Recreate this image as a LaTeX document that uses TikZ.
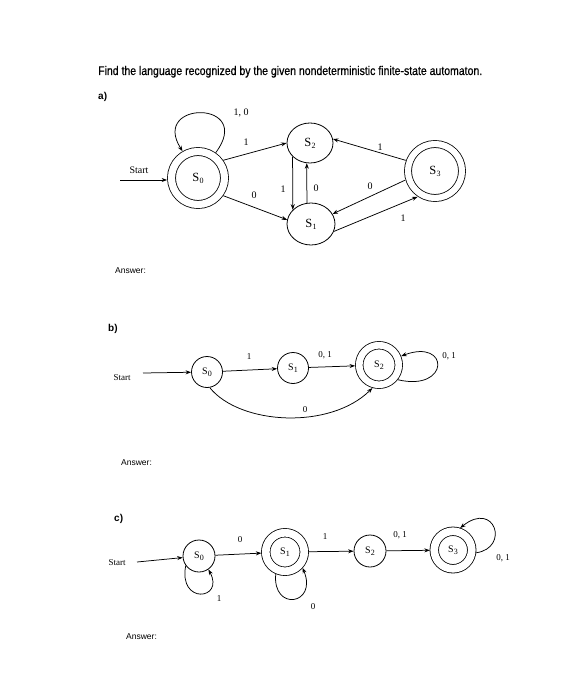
\documentclass[tikz,border=0pt]{standalone}
\usepackage{fontspec}
\setmainfont{Liberation Serif}
\setsansfont{Liberation Sans}
\newfontfamily\titlefont[FakeStretch=0.84, FakeBold=0.6]{Liberation Sans}
\usetikzlibrary{shapes.geometric, arrows.meta}

\newcommand{\sname}[1]{S\kern.2pt\lower.35ex\hbox{\footnotesize #1}}

\tikzset{
  state/.style={draw, circle, line width=0.8pt, inner sep=0pt},
  oval/.style={draw, ellipse, line width=0.8pt, inner sep=0pt},
  accept/.style={double, double distance=#1},
  trans/.style={-{Stealth[length=5.5pt, width=4pt]}, line width=0.75pt},
  lbl/.style={inner sep=0pt, font=\fontsize{10}{12}\selectfont},
  small lbl/.style={inner sep=0pt, font=\fontsize{9}{11}\selectfont},
  part/.style={anchor=base west, inner sep=0pt, font=\sffamily\bfseries\fontsize{10}{12}\selectfont},
  answer/.style={anchor=base west, inner sep=0pt, font=\sffamily\fontsize{8.5}{10}\selectfont},
}

\begin{document}
\begin{tikzpicture}[x=1pt, y=-1pt]
  \useasboundingbox (0,0) rectangle (566,700);

  \node[anchor=base west, inner sep=0pt, font=\titlefont\fontsize{12.5}{14}\selectfont] (title) at (98,75)
    {Find the language recognized by the given nondeterministic finite-state automaton.};

  % a)
  \node[part] (part-a) at (98,100) {a)};
  \node[state, accept=7.2pt, outer sep=4.4pt, minimum size=53pt, font=\fontsize{12.5}{14}\selectfont] (a-s0) at (198,178) {\sname{0}};
  \node[oval, minimum width=46pt, minimum height=40pt, font=\fontsize{12.5}{14}\selectfont] (a-s2) at (310,143) {\sname{2}};
  \node[oval, minimum width=48pt, minimum height=42pt, font=\fontsize{12.5}{14}\selectfont] (a-s1) at (311,224) {\sname{1}};
  \node[state, accept=6.2pt, outer sep=4.1pt, minimum size=54pt, font=\fontsize{12.5}{14}\selectfont] (a-s3) at (435,171) {\sname{3}};
  \coordinate (a-start) at (120,180);
  \node[lbl] (a-start-label) at (139,170) {Start};

  \draw[trans] (a-start) -- (a-s0.west |- a-start);
  \draw[trans] (a-s0.55) .. controls (255,100) and (150,100) .. (a-s0.120);
  \draw[trans] (a-s0.35) -- (a-s2.180);
  \draw[trans] (a-s0.-35) -- (a-s1.170);
  \draw[trans] (a-s2.218) -- (a-s1.142);
  \draw[trans] (a-s1.101) -- (a-s2.261);
  \draw[trans] (a-s3.160) -- (a-s2.10);
  \draw[trans] (a-s3.197) -- (a-s1.25);
  \draw[trans] (a-s1.-18) -- (a-s3.236);

  \node[lbl] (a-loop-label) at (241,113) {1, 0};
  \node[lbl] (a-02-label) at (246,142) {1};
  \node[lbl] (a-01-label) at (254,195) {0};
  \node[lbl] (a-21-label) at (283,189) {1};
  \node[lbl] (a-12-label) at (316,188) {0};
  \node[lbl] (a-32-label) at (380,147) {1};
  \node[lbl] (a-31-label) at (370,186) {0};
  \node[lbl] (a-13-label) at (403,218) {1};

  \node[answer] (answer-a) at (115,273) {Answer:};

  % b)
  \node[part] (part-b) at (108,331) {b)};
  \node[state, minimum size=31pt, font=\fontsize{10}{12}\selectfont] (b-s0) at (207,372) {\sname{0}};
  \node[state, minimum size=31pt, font=\fontsize{10}{12}\selectfont] (b-s1) at (293,368) {\sname{1}};
  \node[state, accept=6.7pt, outer sep=4.2pt, minimum size=39.5pt, font=\fontsize{10}{12}\selectfont] (b-s2) at (379,365) {\sname{2}};
  \coordinate (b-start) at (143,373);
  \node[small lbl] (b-start-label) at (122,378) {Start};

  \draw[trans] (b-start) -- (b-s0);
  \draw[trans] (b-s0) -- (b-s1);
  \draw[trans] (b-s1) -- (b-s2);
  \draw[trans] (b-s2.-38) .. controls (450,392) and (450,338) .. (b-s2.22);
  \draw[trans] (b-s0.-80) .. controls (240,425) and (330,430) .. (b-s2.-106);

  \node[small lbl] (b-01-label) at (249,357) {1};
  \node[small lbl] (b-12-label) at (325,355) {0, 1};
  \node[small lbl] (b-loop-label) at (449,356) {0, 1};
  \node[small lbl] (b-02-label) at (305,410) {0};

  \node[answer] (answer-b) at (121,465) {Answer:};

  % c)
  \node[part] (part-c) at (114,521) {c)};
  \node[state, minimum size=32pt, font=\fontsize{10}{12}\selectfont] (c-s0) at (199,556) {\sname{0}};
  \node[state, accept=7.7pt, outer sep=4.4pt, minimum size=38.5pt, font=\fontsize{10}{12}\selectfont] (c-s1) at (285,552) {\sname{1}};
  \node[state, minimum size=32pt, font=\fontsize{10}{12}\selectfont] (c-s2) at (370,551) {\sname{2}};
  \node[state, accept=7.7pt, outer sep=4.4pt, minimum size=37.5pt, font=\fontsize{10}{12}\selectfont] (c-s3) at (453,550) {\sname{3}};
  \coordinate (c-start) at (137,562);
  \node[small lbl] (c-start-label) at (117,563) {Start};

  \draw[trans] (c-start) -- (c-s0);
  \draw[trans] (c-s0.216) .. controls (178,605) and (225,600) .. (c-s0.-55);
  \draw[trans] (c-s0) -- (c-s1);
  \draw[trans] (c-s1.-113) .. controls (272,612) and (318,605) .. (c-s1.-42);
  \draw[trans] (c-s1) -- (c-s2);
  \draw[trans] (c-s2) -- (c-s3);
  \draw[trans] (c-s3.-7) .. controls (510,548) and (495,500) .. (c-s3.72);

  \node[small lbl] (c-00-label) at (219,599) {1};
  \node[small lbl] (c-01-label) at (240,540) {0};
  \node[small lbl] (c-11-label) at (313,607) {0};
  \node[small lbl] (c-12-label) at (325,537) {1};
  \node[small lbl] (c-23-label) at (400,535) {0, 1};
  \node[small lbl] (c-33-label) at (503,558) {0, 1};

  \node[answer] (answer-c) at (126,639) {Answer:};
\end{tikzpicture}
\end{document}
